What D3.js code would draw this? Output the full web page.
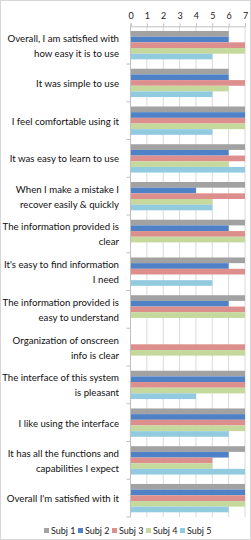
<!DOCTYPE html>
<html>
<head>
<meta charset="utf-8">
<script src="https://cdn.jsdelivr.net/npm/d3@7"></script>
<style>
  html, body { margin: 0; padding: 0; background: #fff; }
  svg { display: block; font-family: Lato, "Open Sans", sans-serif; }
</style>
</head>
<body>
<div id="corpo"></div>
<script>
// perguntas (\n = quebra de linha do rótulo)
var categories = [
  "Overall, I am satisfied with\nhow easy it is to use",
  "It was simple to use",
  "I feel comfortable using it",
  "It was easy to learn to use",
  "When I make a mistake I\nrecover easily & quickly",
  "The information provided is\nclear",
  "It's easy to find information\nI need",
  "The information provided is\neasy to understand",
  "Organization of onscreen\ninfo is clear",
  "The interface of this system\nis pleasant",
  "I like using the interface",
  "It has all the functions and\ncapabilities I expect",
  "Overall I'm satisfied with it"
];

var subjects = ["Subj 1", "Subj 2", "Subj 3", "Subj 4", "Subj 5"];

// notas por sujeito (null = sem resposta)
var subj1 = [6, 6, 7, 7, 7, 7, 7, 7, null, 7, 7, 7, 7];
var subj2 = [6, 6, 7, 6, 4, 6, 6, 6, null, 7, 7, 6, 7];
var subj3 = [7, 7, 7, 7, 7, 7, 7, 7, 7, 7, 7, 5, 7];
var subj4 = [7, 6, 7, 6, 5, 7, null, 7, 7, 7, 7, 5, 7];
var subj5 = [5, 5, 5, 7, 5, null, 5, null, null, 4, 6, 7, 6];

var tickValues = [0, 1, 2, 3, 4, 5, 6, 7];

var colors = ["#a2a2a2", "#4f81c6", "#dc8f8c", "#c5d99c", "#92cbe0"];

var series = [subj1, subj2, subj3, subj4, subj5];

var width = 251, height = 540;

var svg = d3.select("#corpo").append("svg")
  .attr("width", width)
  .attr("height", height);

// borda da área do gráfico
svg.append("rect")
  .attr("x", 0.5).attr("y", 0.5)
  .attr("width", width - 1).attr("height", height - 1)
  .attr("fill", "#fff")
  .attr("stroke", "#d6d6d6");

var x = d3.scaleLinear().domain([0, 7]).range([130.5, 245]);

var y = d3.scaleBand()
  .domain(categories)
  .range([26.3, 517]);

var ySub = d3.scaleBand()
  .domain(subjects)
  .range([0, y.bandwidth()])
  .paddingOuter(0.83);

/* linhas de grade */
svg.append("g")
  .selectAll("line")
  .data(tickValues.slice(1))
  .enter().append("line")
  .attr("x1", function(d) { return x(d); })
  .attr("x2", function(d) { return x(d); })
  .attr("y1", y.range()[0])
  .attr("y2", y.range()[1])
  .attr("stroke", "#d9d9d9")
  .attr("stroke-width", 1);

/* barras */
var group = svg.append("g")
  .selectAll("g")
  .data(categories)
  .enter().append("g")
  .attr("transform", function(d) { return "translate(0," + y(d) + ")"; });

group.selectAll("rect")
  .data(function(d, i) {
    return subjects.map(function(s, j) { return { subj: s, value: series[j][i], idx: j }; })
      .filter(function(e) { return e.value != null; });
  })
  .enter().append("rect")
  .attr("x", x(0))
  .attr("y", function(d) { return ySub(d.subj); })
  .attr("width", function(d) { return x(d.value) - x(0); })
  .attr("height", ySub.bandwidth())
  .attr("fill", function(d) { return colors[d.idx]; });

/* eixo de valores no topo */
var xAxis = svg.append("g")
  .attr("transform", "translate(0," + y.range()[0] + ")")
  .call(d3.axisTop(x).tickValues(tickValues).tickFormat(d3.format("d")).tickSize(3).tickPadding(4));

xAxis.select(".domain").attr("stroke", "#bfbfbf");
xAxis.selectAll(".tick line").attr("stroke", "#bfbfbf");
xAxis.selectAll(".tick text")
  .attr("font-family", "Lato, sans-serif")
  .attr("font-size", 9)
  .attr("fill", "#222");

/* eixo de categorias */
svg.append("line")
  .attr("x1", x(0)).attr("x2", x(0))
  .attr("y1", y.range()[0]).attr("y2", y.range()[1])
  .attr("stroke", "#bfbfbf");

svg.append("g")
  .selectAll("line")
  .data(categories)
  .enter().append("line")
  .attr("x1", x(0) - 4).attr("x2", x(0))
  .attr("y1", function(d) { return y(d) + y.bandwidth(); })
  .attr("y2", function(d) { return y(d) + y.bandwidth(); })
  .attr("stroke", "#bfbfbf");

var lineHeight = 15;
var labelRight = 119;

var labels = svg.append("g")
  .attr("font-size", 11.5)
  .selectAll("text")
  .data(categories)
  .enter().append("text")
  .attr("text-anchor", "end")
  .attr("fill", "#111")
  .attr("y", function(d) { return y(d) + y.bandwidth() / 2; });

labels.each(function(d) {
  var lines = d.split("\n");
  var t = d3.select(this);
  var off = -(lines.length - 1) * lineHeight / 2;
  lines.forEach(function(l, i) {
    t.append("tspan")
      .attr("x", labelRight)
      .attr("dy", i === 0 ? (off + 4) : lineHeight)
      .text(l);
  });
});

// ajusta tamanho da fonte: a linha mais larga deve ir de x=2 a x=119
var maxW = 0;
labels.selectAll("tspan").each(function() {
  maxW = Math.max(maxW, this.getComputedTextLength());
});
var fs = 11.5 * (labelRight - 2) / maxW;
labels.attr("font-size", fs);

/* legenda */
var legend = svg.append("g")
  .attr("transform", "translate(44,531)");

var item = legend.selectAll("g")
  .data(subjects)
  .enter().append("g")
  .attr("transform", function(d, i) { return "translate(" + (i * 34) + ",0)"; });

item.append("rect")
  .attr("x", 0).attr("y", -3)
  .attr("width", 5).attr("height", 5)
  .attr("fill", function(d, i) { return colors[i]; });

item.append("text")
  .attr("x", 7)
  .attr("y", 3)
  .attr("font-size", 9)
  .attr("fill", "#222")
  .text(function(d) { return d; });
</script>
</body>
</html>
